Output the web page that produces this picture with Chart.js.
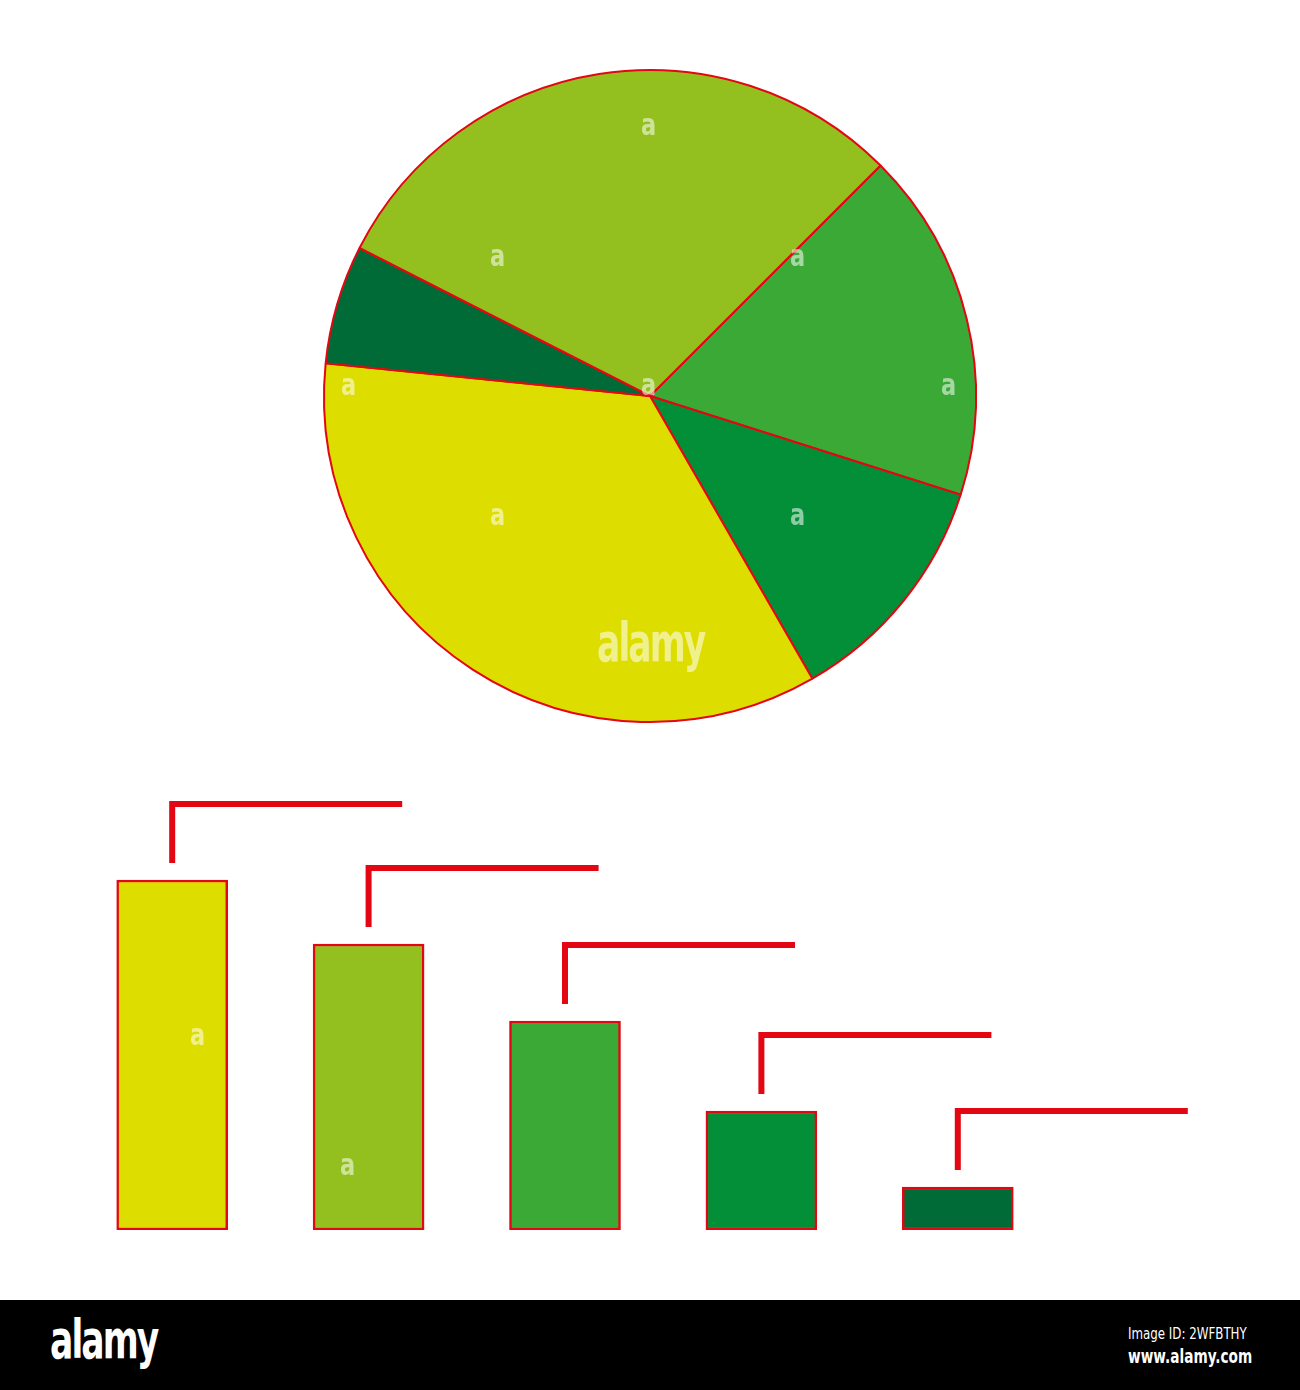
<!DOCTYPE html>
<html>
<head>
<meta charset="utf-8">
<script src="https://cdn.jsdelivr.net/npm/chart.js@4/dist/chart.umd.min.js"></script>
<style>
  html, body { margin:0; padding:0; background:#fff; }
  #wrap { position:relative; width:1300px; height:1390px; overflow:hidden; background:#fff; }
  #pieBox { position:absolute; left:300px; top:46px; width:700px; height:700px; }
  #barBox { position:absolute; left:0px; top:760px; width:1300px; height:500px; }
  .wm { position:absolute; color:rgba(255,255,255,0.55); font-family:"DejaVu Sans", sans-serif; font-weight:bold; transform-origin:left top; white-space:nowrap; pointer-events:none; }
  #strip { position:absolute; left:0; top:1300px; width:1300px; height:90px; background:#000; }
  .stxt { position:absolute; color:#fff; white-space:nowrap; transform-origin:left top; }
</style>
</head>
<body>
<div id="wrap">
  <div id="pieBox"><canvas id="pie"></canvas></div>
  <div id="barBox"><canvas id="bar"></canvas></div>
  <div id="marks"></div>
  <div id="strip">
    <div class="stxt" style="left:50px; top:8px; font-family:'DejaVu Sans',sans-serif; font-weight:bold; font-size:54px; letter-spacing:-3px; transform:scaleX(0.64);">alamy</div>
    <div class="stxt" style="left:1128px; top:24px; font-family:'DejaVu Sans',sans-serif; font-size:16px; transform:scaleX(0.74);">Image ID: 2WFBTHY</div>
    <div class="stxt" style="left:1128px; top:45px; font-family:'DejaVu Sans',sans-serif; font-weight:bold; font-size:19px; transform:scaleX(0.72);">www.alamy.com</div>
  </div>
</div>
<script>
// ---- data ----
const pieLabels = ['B', 'C', 'D', 'E', 'A'];
const pieValues = [17.4, 11.8, 34.9, 5.9, 30.0];
const pieColors = ['#3aa935', '#038f38', '#dedd00', '#006b36', '#93c01f'];

const barLabels = ['1', '2', '3', '4', '5'];
const barValues = [350, 286, 209, 119, 43];
const barColors = ['#dedd00', '#93c01f', '#3aa935', '#038f38', '#006b36'];

const RED = '#e30613';

Chart.defaults.animation = false;

new Chart(document.getElementById('pie'), {
  type: 'pie',
  data: {
    labels: pieLabels,
    datasets: [{
      data: pieValues,
      backgroundColor: pieColors,
      borderColor: RED,
      borderWidth: 2
    }]
  },
  options: {
    responsive: true,
    maintainAspectRatio: false,
    rotation: 45,
    radius: 326,
    layout: { padding: 0 },
    plugins: { legend: { display: false }, tooltip: { enabled: false } }
  }
});

const leaderPlugin = {
  id: 'leaders',
  afterDatasetsDraw(chart) {
    const ctx = chart.ctx;
    const meta = chart.getDatasetMeta(0);
    ctx.save();
    ctx.strokeStyle = RED;
    ctx.lineWidth = 6;
    ctx.lineCap = 'butt';
    ctx.lineJoin = 'miter';
    meta.data.forEach(el => {
      const x = el.x, y = el.y;
      ctx.beginPath();
      ctx.moveTo(x, y - 17);
      ctx.lineTo(x, y - 76);
      ctx.lineTo(x + 230, y - 76);
      ctx.stroke();
    });
    ctx.restore();
  }
};

new Chart(document.getElementById('bar'), {
  type: 'bar',
  data: {
    labels: barLabels,
    datasets: [{
      data: barValues,
      backgroundColor: barColors,
      borderColor: RED,
      borderWidth: 2.5,
      borderSkipped: false,
      barThickness: 111
    }]
  },
  options: {
    responsive: true,
    maintainAspectRatio: false,
    layout: { padding: { left: 74, right: 244, top: 70, bottom: 30 } },
    scales: {
      x: { display: false },
      y: { display: false, min: 0, max: 400 }
    },
    plugins: { legend: { display: false }, tooltip: { enabled: false } }
  },
  plugins: [leaderPlugin]
});

// watermark glyphs
const marks = document.getElementById('marks');
const smallA = [[648,127],[497,258],[797,258],[348,387],[648,387],[948,387],[497,517],[797,517],[197,1037],[347,1167]];
smallA.forEach(([x,y]) => {
  const d = document.createElement('div');
  d.className = 'wm';
  d.textContent = 'a';
  d.style.fontSize = '30px';
  d.style.left = (x - 7) + 'px';
  d.style.top = (y - 20) + 'px';
  d.style.transform = 'scaleX(0.75)';
  marks.appendChild(d);
});
const big = document.createElement('div');
big.className = 'wm';
big.textContent = 'alamy';
big.style.fontSize = '54px';
big.style.letterSpacing = '-3px';
big.style.left = '597px';
big.style.top = '611px';
big.style.transform = 'scaleX(0.64)';
marks.appendChild(big);
</script>
</body>
</html>
